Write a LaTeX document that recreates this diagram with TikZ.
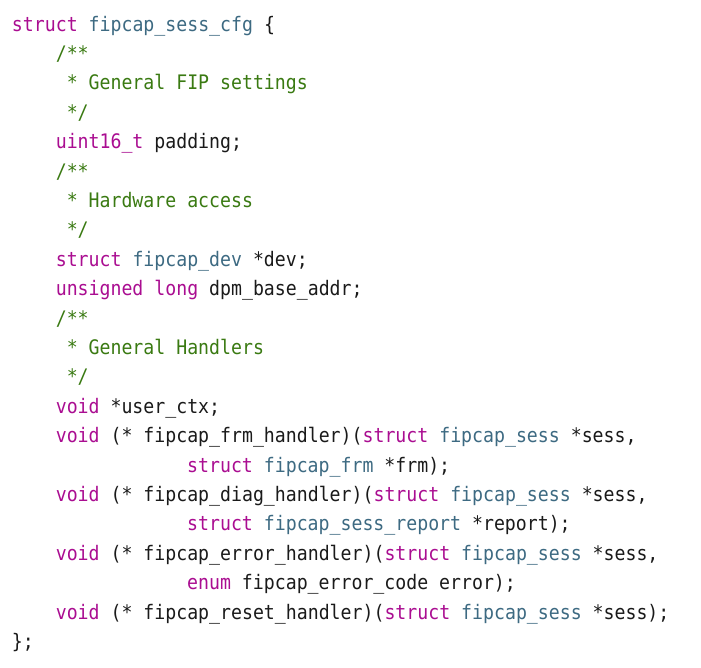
\documentclass[tikz,border=0pt]{standalone}
\usepackage{fontspec}
\usepackage{xcolor}
\newfontfamily\codefont{DejaVu Sans Mono}[FakeStretch=0.91]
\definecolor{kwc}{HTML}{AA0D91}
\definecolor{tyc}{HTML}{3D6A82}
\definecolor{cmc}{HTML}{3A7A12}
\definecolor{txc}{HTML}{1A1A1A}
\newcommand\ckw[1]{\textcolor{kwc}{#1}}
\newcommand\cty[1]{\textcolor{tyc}{#1}}
\newcommand\ccm[1]{\textcolor{cmc}{#1}}
\newcommand\codeln[3]{\node[codeline] (l#1) at ({12+#2*10.95},{-31-(#1-1)*29.4}) {#3};}
\tikzset{codeline/.style={anchor=base west,inner sep=0pt,outer sep=0pt,text=txc,font=\codefont\fontsize{20}{24}\selectfont}}
\begin{document}
\begin{tikzpicture}[x=1pt,y=1pt]
\fill[white] (0,0) rectangle (701,-667);
\useasboundingbox (0,0) rectangle (701,-667);
\codeln{1}{0}{\ckw{struct} \cty{fipcap\_sess\_cfg} \{}
\codeln{2}{4}{\ccm{/**}}
\codeln{3}{5}{\ccm{* General FIP settings}}
\codeln{4}{5}{\ccm{*/}}
\codeln{5}{4}{\ckw{uint16\_t} padding;}
\codeln{6}{4}{\ccm{/**}}
\codeln{7}{5}{\ccm{* Hardware access}}
\codeln{8}{5}{\ccm{*/}}
\codeln{9}{4}{\ckw{struct} \cty{fipcap\_dev} *dev;}
\codeln{10}{4}{\ckw{unsigned} \ckw{long} dpm\_base\_addr;}
\codeln{11}{4}{\ccm{/**}}
\codeln{12}{5}{\ccm{* General Handlers}}
\codeln{13}{5}{\ccm{*/}}
\codeln{14}{4}{\ckw{void} *user\_ctx;}
\codeln{15}{4}{\ckw{void} (* fipcap\_frm\_handler)(\ckw{struct} \cty{fipcap\_sess} *sess,}
\codeln{16}{16}{\ckw{struct} \cty{fipcap\_frm} *frm);}
\codeln{17}{4}{\ckw{void} (* fipcap\_diag\_handler)(\ckw{struct} \cty{fipcap\_sess} *sess,}
\codeln{18}{16}{\ckw{struct} \cty{fipcap\_sess\_report} *report);}
\codeln{19}{4}{\ckw{void} (* fipcap\_error\_handler)(\ckw{struct} \cty{fipcap\_sess} *sess,}
\codeln{20}{16}{\ckw{enum} fipcap\_error\_code error);}
\codeln{21}{4}{\ckw{void} (* fipcap\_reset\_handler)(\ckw{struct} \cty{fipcap\_sess} *sess);}
\codeln{22}{0}{\};}
\end{tikzpicture}
\end{document}
